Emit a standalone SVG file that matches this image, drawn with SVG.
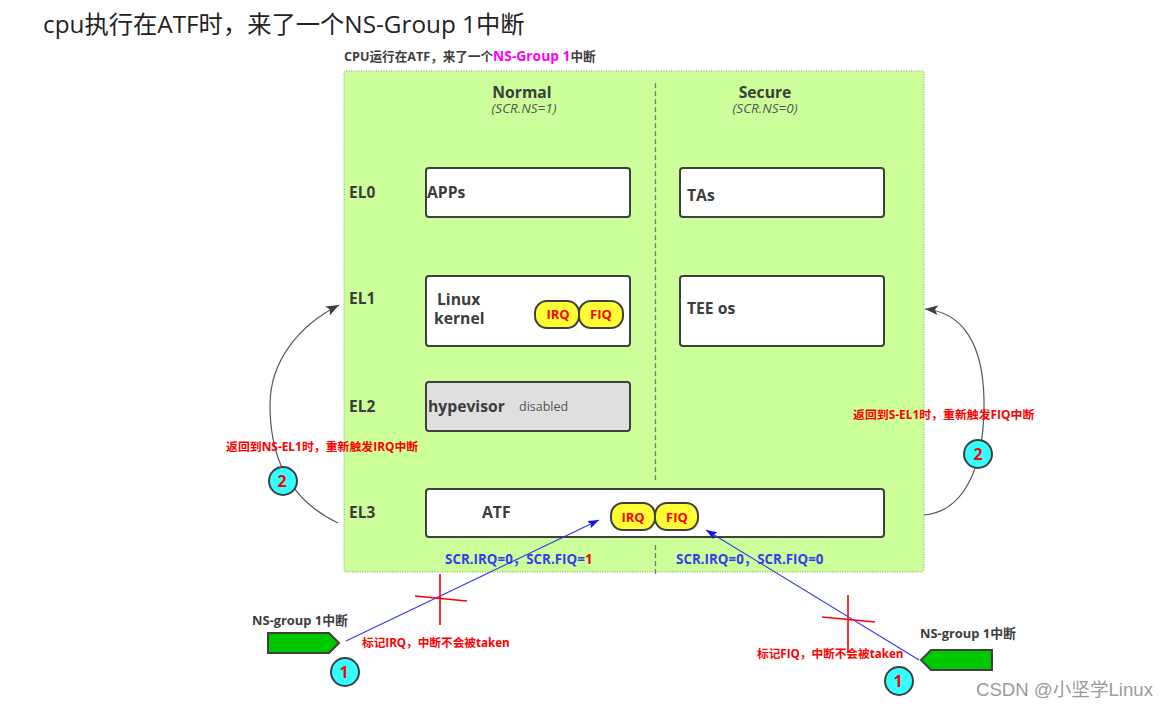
<svg xmlns="http://www.w3.org/2000/svg" width="1169" height="708" viewBox="0 0 1169 708">
<style>
text{font-family:"Open Sans","Noto Sans CJK SC",sans-serif;fill:#3d3d3d}
.b{font-weight:700}
.box{fill:#fff;stroke:#3f3f3f;stroke-width:2}
.el{font-size:15.5px;font-weight:700}
.nm{font-size:15.7px;font-weight:700}
.pill{fill:#ffff33;stroke:#3f3f3f;stroke-width:2}
.pt{font-size:13px;font-weight:700;fill:#f00;text-anchor:middle}
.red{font-size:11.9px;font-weight:700;fill:#f00}
.red2{font-size:11.65px;font-weight:700;fill:#f00}
.scr{font-size:13.4px;font-weight:700;fill:#3a3af0}
.circ{fill:#33ffff;stroke:#3f3f3f;stroke-width:2}
.num{font-size:16px;font-weight:700;fill:#f00;text-anchor:middle}
.flag{fill:#00c800;stroke:#3f3f3f;stroke-width:2}
.ns{font-size:12.9px;font-weight:700}
.cv{fill:none;stroke:#555;stroke-width:1.2}
.bl{stroke:#3535f5;stroke-width:1.1;fill:none}
.x{stroke:#f00;stroke-width:1.6;fill:none}
.sub{font-size:13.5px;font-style:italic;fill:#555;text-anchor:middle}
</style>
<defs>
<marker id="ag" markerUnits="userSpaceOnUse" markerWidth="14" markerHeight="12" refX="13" refY="5" orient="auto"><path d="M0 0L13 5L0 10L3 5Z" fill="#3f3f3f"/></marker>
<marker id="ab" markerUnits="userSpaceOnUse" markerWidth="12" markerHeight="10" refX="11" refY="4" orient="auto"><path d="M0 0L11 4L0 8L2 4Z" fill="#1010f0"/></marker>
</defs>
<rect width="1169" height="708" fill="#fff"/>
<text x="43" y="33" font-size="24.300" style="fill:#222">cpu执行在ATF时，来了一个NS-Group 1中断</text>
<text x="344" y="61" font-size="12.600" class="b">CPU运行在ATF，来了一个<tspan style="fill:#ff00ff" font-size="13.800">NS-Group 1</tspan>中断</text>
<g id="panel">
<rect x="344" y="71" width="580" height="501" rx="2" fill="#ccff99" stroke="#8a9a7a" stroke-width="1" stroke-dasharray="1 1.5"/>
<line x1="655.500" y1="83" x2="655.500" y2="480" stroke="#777" stroke-width="1.3" stroke-dasharray="5 3"/>
<line x1="655.500" y1="545" x2="655.500" y2="574" stroke="#777" stroke-width="1.3" stroke-dasharray="5 3"/>
<text x="522" y="98" class="nm" text-anchor="middle">Normal</text>
<text x="524" y="113" class="sub">(SCR.NS=1)</text>
<text x="765" y="98" class="nm" text-anchor="middle">Secure</text>
<text x="765" y="113" class="sub">(SCR.NS=0)</text>
<text x="349" y="198" class="el">EL0</text>
<text x="349" y="304" class="el">EL1</text>
<text x="349" y="412" class="el">EL2</text>
<text x="349" y="518" class="el">EL3</text>
<text x="445" y="564" class="scr">SCR.IRQ=0，SCR.FIQ=<tspan style="fill:#f00">1</tspan></text>
<text x="676" y="564" class="scr">SCR.IRQ=0，SCR.FIQ=0</text>
</g>
<g id="apps"><rect class="box" x="426" y="168" width="204" height="49" rx="3"/><text x="427" y="198" class="nm">APPs</text></g>
<g id="tas"><rect class="box" x="680" y="168" width="204" height="49" rx="3"/><text x="687" y="201" class="nm">TAs</text></g>
<g id="linux"><rect class="box" x="426" y="276" width="204" height="70" rx="3"/><text class="nm"><tspan x="437" y="305">Linux</tspan><tspan x="434" y="324">kernel</tspan></text></g>
<g id="irq1"><rect class="pill" x="535" y="301" width="44" height="27" rx="12"/><text x="558" y="319" class="pt">IRQ</text></g>
<g id="fiq1"><rect class="pill" x="579" y="301" width="44" height="27" rx="12"/><text x="601" y="319" class="pt">FIQ</text></g>
<g id="tee"><rect class="box" x="680" y="276" width="204" height="70" rx="3"/><text x="687" y="314" class="nm">TEE os</text></g>
<g id="hyp"><rect class="box" style="fill:#dfdfdf" x="426" y="382" width="204" height="49" rx="3"/><text x="428" y="412" class="nm">hypevisor</text><text x="519" y="411" font-size="12.5" style="fill:#555">disabled</text></g>
<g id="atf"><rect class="box" x="426" y="489" width="458" height="48" rx="3"/><text x="482" y="518" class="nm">ATF</text></g>
<g id="irq2"><rect class="pill" x="611" y="503" width="44" height="27" rx="12"/><text x="633" y="522" class="pt">IRQ</text></g>
<g id="fiq2"><rect class="pill" x="655" y="503" width="43" height="27" rx="12"/><text x="677" y="522" class="pt">FIQ</text></g>
<g id="connectors">
<path class="cv" d="M338 523C300 505 270 470 270 405C270 360 300 325 339 305" marker-end="url(#ag)"/>
<path class="cv" d="M924 515C950 513 985 490 984 400C983 340 960 312 925 309" marker-end="url(#ag)"/>
<line class="bl" x1="346" y1="641" x2="599" y2="520" marker-end="url(#ab)"/>
<line class="bl" x1="919" y1="660" x2="706" y2="530" marker-end="url(#ab)"/>
<path class="x" d="M440 574V625M415 596L467 601"/>
<path class="x" d="M848 595V652M822 617L875 622"/>
</g>
<g id="lbl"><text x="226" y="451" class="red">返回到NS-EL1时，重新触发IRQ中断</text>
<text x="853" y="419" class="red">返回到S-EL1时，重新触发FIQ中断</text>
<text x="362" y="647" class="red2">标记IRQ，中断不会被taken</text>
<text x="757" y="658" class="red2">标记FIQ，中断不会被taken</text></g>
<g id="c2l"><circle class="circ" cx="283" cy="481" r="14"/><text x="282" y="487" class="num">2</text></g>
<g id="c2r"><circle class="circ" cx="978" cy="454" r="14"/><text x="978" y="460" class="num">2</text></g>
<g id="c1l"><circle class="circ" cx="345" cy="672" r="14"/><text x="344" y="678" class="num">1</text></g>
<g id="c1r"><circle class="circ" cx="899" cy="681" r="14"/><text x="898" y="687" class="num">1</text></g>
<g id="srcL"><text x="252" y="625" class="ns">NS-group 1中断</text><path class="flag" d="M268 633H329L339 643L329 653H268Z"/></g>
<g id="srcR"><text x="920" y="638" class="ns">NS-group 1中断</text><path class="flag" d="M992 650H931L921 660L931 670H992Z"/></g>
<text x="976" y="696" font-size="18.600" style="font-family:'Liberation Sans','Noto Sans CJK SC',sans-serif;fill:#9a9a9a">CSDN @小坚学Linux</text>
</svg>
